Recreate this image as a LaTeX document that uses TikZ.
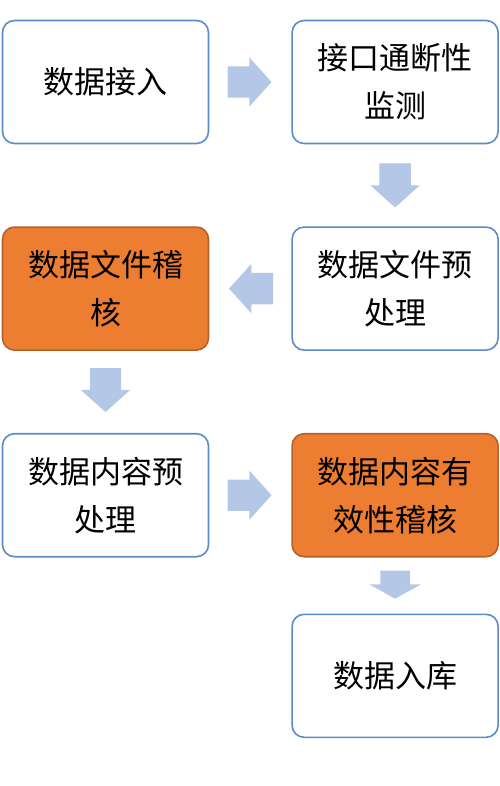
\documentclass[tikz,border=0pt]{standalone}
\usepackage{fontspec}
\setmainfont{Noto Sans CJK SC}
\usetikzlibrary{positioning, shapes.arrows, calc}
\definecolor{boxline}{HTML}{5B8BC9}
\definecolor{checkfill}{HTML}{ED7D31}
\definecolor{checkline}{HTML}{B5622A}
\definecolor{flowfill}{HTML}{B4C7E7}

\begin{document}
\begin{tikzpicture}[x=1pt, y=1pt,
    stepbox/.style={rectangle, rounded corners=12pt, draw=boxline, fill=white, line width=1.6pt,
        minimum width=206pt, minimum height=123pt, align=center,
        font=\fontsize{31pt}{48pt}\selectfont, inner sep=0pt},
    checkbox/.style={stepbox, draw=checkline, fill=checkfill},
    flow/.style={single arrow, draw=none, fill=flowfill, inner xsep=0pt, inner ysep=15.5pt,
        single arrow head extend=9pt, single arrow tip angle=96, minimum height=44pt, anchor=tail},
    shortflow/.style={flow, inner ysep=14.5pt, single arrow head extend=11pt,
        single arrow tip angle=122, minimum height=28pt}]
    \useasboundingbox (0,0) rectangle (499,-786);
    % nodes
    \node[stepbox]   (access)   at (105.5,-82)              {数据接入};
    \node[stepbox]   (monitor)  [right=82pt of access]      {接口通断性\\监测};
    \node[stepbox]   (filepre)  [below=82pt of monitor]     {数据文件预\\处理};
    \node[checkbox]  (filechk)  [left=82pt of filepre]      {数据文件稽\\核};
    \node[stepbox]   (contpre)  [below=82pt of filechk]     {数据内容预\\处理};
    \node[checkbox]  (contchk)  [right=82pt of contpre]     {数据内容有\\效性稽核};
    \node[stepbox]   (store)    [below=56pt of contchk]     {数据入库};
    % arrows
    \node[flow]                    at ($(access.east)+(18,0)$) {};
    \node[flow, rotate=-90]        at ($(monitor.south)+(0,-19)$) {};
    \node[flow, rotate=180]        at ($(filepre.west)+(-18,0)$) {};
    \node[flow, rotate=-90]        at ($(filechk.south)+(0,-17)$) {};
    \node[flow]                    at ($(contpre.east)+(18,0)$) {};
    \node[shortflow, rotate=-90]   at ($(contchk.south)+(0,-13)$) {};
\end{tikzpicture}
\end{document}
